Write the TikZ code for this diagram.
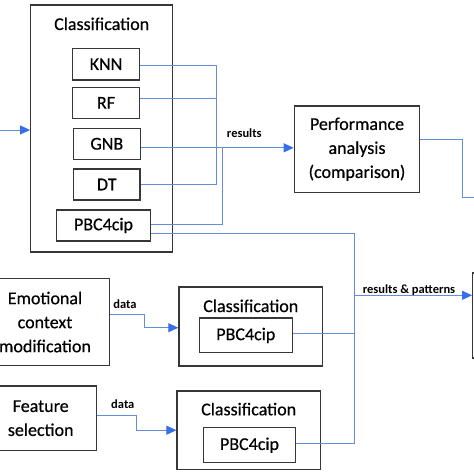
\documentclass[tikz,border=0pt]{standalone}
\usepackage{fontspec}
\setmainfont{Carlito}
\newfontfamily\heavy[FakeBold=0.5]{Carlito}
\usetikzlibrary{arrows.meta}
\definecolor{lineblue}{RGB}{100,140,215}
\definecolor{arrowblue}{RGB}{55,110,235}
\definecolor{boxgray}{RGB}{55,55,55}
\begin{document}
\begin{tikzpicture}[x=1pt,y=-1pt,
  box/.style={draw=boxgray, line width=1.3pt, inner sep=0pt, align=center,
    font=\heavy\fontsize{18}{24}\selectfont},
  ttl/.style={inner sep=0pt, anchor=base, font=\heavy\fontsize{18}{24}\selectfont},
  lbl/.style={inner sep=0pt, anchor=base, font=\bfseries\fontsize{12.5}{15}\selectfont},
  conn/.style={draw=lineblue, line width=0.9pt},
  arr/.style={conn, -{Triangle[length=10pt,width=9pt,color=arrowblue,fill=arrowblue]}}
]
\useasboundingbox[fill=white] (0,0) rectangle (474,474);

% top classification block
\node[box, minimum width=142pt, minimum height=247pt] (bigcls) at (101.7,128.5) {};
\node[ttl] (t1) at (101.7,30) {Classification};
\node[box, minimum width=66.6pt, minimum height=31.7pt] (knn) at (106,64.2) {KNN};
\node[box, minimum width=66.6pt, minimum height=31pt] (rf) at (106,102.8) {RF};
\node[box, minimum width=67pt, minimum height=31pt] (gnb) at (106.8,143.8) {GNB};
\node[box, minimum width=66.3pt, minimum height=31pt] (dt) at (106.8,184.5) {DT};
\node[box, minimum width=93.6pt, minimum height=31pt] (pbc) at (103.5,225.5) {PBC4cip};

% performance
\node[box, minimum width=125.4pt, minimum height=86.3pt] (perf) at (357,149.2)
  {Performance\\analysis\\(comparison)};

% lower blocks
\node[box, minimum width=128.6pt, minimum height=86.6pt] (emo) at (45,322)
  {Emotional\\context\\modification};
\node[box, minimum width=112pt, minimum height=64.3pt] (feat) at (40.7,418.2)
  {Feature\\selection};
\node[box, minimum width=143.7pt, minimum height=79pt] (cls2) at (250.8,326.5) {};
\node[ttl] (t2) at (250.8,312) {Classification};
\node[box, minimum width=93pt, minimum height=34.7pt] (p2) at (245.8,335.4) {PBC4cip};
\node[box, minimum width=143.3pt, minimum height=78.3pt] (cls3) at (248.7,430.2) {};
\node[ttl] (t3) at (248.7,415.3) {Classification};
\node[box, minimum width=92.4pt, minimum height=35pt] (p3) at (249.5,445.2) {PBC4cip};

% right box (cut by the edge)
\node[box, minimum width=94.6pt, minimum height=85pt] (rbox) at (520,315.5) {};

% coordinates
\coordinate (b1) at (216.7,0);
\coordinate (j1) at (222.7,147.7);
\coordinate (b3) at (354,0);
\coordinate (j2) at (354,295.3);
\coordinate (bend) at (462.7,197.3);
\coordinate (outend) at (480,197.3);
\coordinate (instart) at (-2,130);
\coordinate (e1) at (144,0);
\coordinate (f1) at (136.7,0);

% input arrow
\draw[arr] (instart) -- (instart -| bigcls.west);

% classifier outputs
\draw[conn] ([yshift=-1pt]knn.east) -- ([yshift=-1pt]knn.east -| b1) -- (dt.east -| b1) -- (dt.east);
\draw[conn] ([yshift=4pt]rf.east) -- ([yshift=4pt]rf.east -| b1);
\draw[arr] ([yshift=-4pt]gnb.east) -- ([yshift=-4pt]gnb.east -| perf.west);
\draw[conn] ([yshift=1.2pt]pbc.east) -| (j1);
\node[lbl] (lres) at (244.3,137.5) {results};

% performance output
\draw[conn] ([yshift=9.9pt]perf.east) -| (bend) -- (outend);

% results & patterns bus
\draw[conn] ([yshift=-7.8pt]pbc.east) -| ([yshift=1.5pt]p3.east -| b3) -- ([yshift=1.5pt]p3.east);
\draw[conn] ([yshift=1.7pt]p2.east) -- ([yshift=1.7pt]p2.east -| b3);
\draw[arr] (j2) -- (j2 -| rbox.west);
\node[lbl] (lrp) at (409,293) {results \& patterns};

% data arrows
\draw[arr] ([yshift=7.3pt]emo.east) -| ([yshift=-1.2pt]cls2.west -| e1) -- ([yshift=-1.2pt]cls2.west);
\node[lbl] (ld1) at (125,308.7) {data};
\draw[arr] ([yshift=2.9pt]feat.east) -| (cls3.west -| f1) -- (cls3.west);
\node[lbl] (ld2) at (122.8,408.7) {data};
\end{tikzpicture}
\end{document}
